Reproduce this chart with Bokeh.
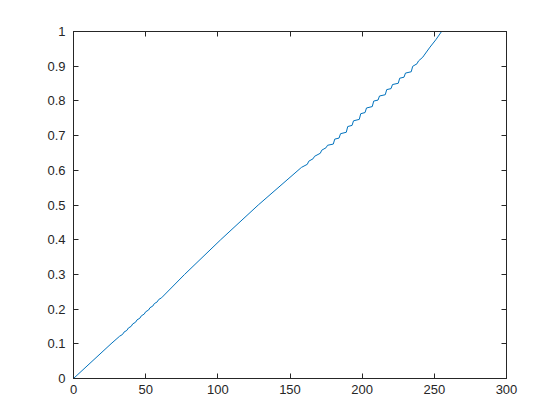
from bokeh.plotting import figure
from bokeh.models import Range1d, LinearAxis, FixedTicker
from bokeh.embed import file_html
from bokeh.resources import INLINE

# curva: parte lisa, serrilhado leve, e depois a escada (x, y)
curva_x = [0, 26,
           32, 34, 35, 37, 38, 40, 41, 43, 44, 46, 47, 49, 50, 52, 53, 55, 56, 58, 59, 61,
           77, 102, 128, 157,
           158, 162, 163, 166, 167, 171, 172, 175,
           176, 180, 181, 184, 185, 189, 190, 193, 194, 198, 199, 202,
           203, 207, 208, 211, 212, 216, 217, 220, 221, 225, 226, 229,
           230, 234, 235, 238, 239, 242, 243, 247, 251, 255]
curva_y = [0.0, 0.100,
           0.1220, 0.1270, 0.1337, 0.1387, 0.1454, 0.1504, 0.1572, 0.1622, 0.1689, 0.1739,
           0.1806, 0.1856, 0.1923, 0.1973, 0.2040, 0.2090, 0.2158, 0.2208, 0.2275, 0.2325,
           0.300, 0.400, 0.500, 0.605,
           0.6085, 0.6173, 0.6262, 0.6333, 0.6403, 0.6491, 0.6580, 0.6651,
           0.6721, 0.6756, 0.6898, 0.6929, 0.7055, 0.7096, 0.7261, 0.7294, 0.7426, 0.7467, 0.7631, 0.7664,
           0.7796, 0.7836, 0.7995, 0.8024, 0.8141, 0.8178, 0.8325, 0.8354, 0.8471, 0.8508, 0.8654, 0.8683,
           0.8801, 0.8840, 0.8996, 0.9070, 0.9150, 0.9260, 0.9320, 0.955, 0.976, 1.0]

ticks_x = [0, 50, 100, 150, 200, 250, 300]
ticks_y = [0, 0.1, 0.2, 0.3, 0.4, 0.5, 0.6, 0.7, 0.8, 0.9, 1]
rotulos_y = ["0", "0.1", "0.2", "0.3", "0.4", "0.5", "0.6", "0.7", "0.8", "0.9", "1"]

cor_eixo = "#262626"
fonte = "Liberation Sans"

p = figure(width=544, height=404, output_backend="svg", toolbar_location=None,
           x_range=Range1d(0, 300), y_range=Range1d(0, 1),
           min_border_left=73, min_border_right=38, min_border_top=31, min_border_bottom=26)
p.background_fill_color = "white"
p.border_fill_color = "white"
p.xgrid.visible = False
p.ygrid.visible = False
p.outline_line_color = cor_eixo

p.line(curva_x, curva_y, line_color="#0072BD", line_width=1)

# eixos principais
p.xaxis.ticker = FixedTicker(ticks=ticks_x)
p.yaxis.ticker = FixedTicker(ticks=ticks_y)
p.yaxis.major_label_overrides = {t: r for t, r in zip(ticks_y, rotulos_y)}
for eixo in [p.xaxis[0], p.yaxis[0]]:
    eixo.major_tick_in = 5
    eixo.major_tick_out = 0
    eixo.minor_tick_in = 0
    eixo.minor_tick_out = 0
    eixo.axis_line_color = cor_eixo
    eixo.major_tick_line_color = cor_eixo
    eixo.major_label_text_color = cor_eixo
    eixo.major_label_text_font = fonte
    eixo.major_label_text_font_size = "13px"
p.xaxis.major_label_standoff = 6
p.yaxis.major_label_standoff = 8

# eixos de cima e da direita (caixa estilo MATLAB), sem rotulos
cima = LinearAxis(ticker=FixedTicker(ticks=ticks_x))
direita = LinearAxis(ticker=FixedTicker(ticks=ticks_y))
cima.major_label_overrides = {t: "" for t in ticks_x}
direita.major_label_overrides = {t: "" for t in ticks_y}
for eixo in [cima, direita]:
    eixo.major_tick_in = 5
    eixo.major_tick_out = 0
    eixo.minor_tick_in = 0
    eixo.minor_tick_out = 0
    eixo.axis_line_color = cor_eixo
    eixo.major_tick_line_color = cor_eixo
    eixo.major_label_standoff = 0
p.add_layout(cima, "above")
p.add_layout(direita, "right")

open("out.html", "w").write(file_html(p, INLINE))
